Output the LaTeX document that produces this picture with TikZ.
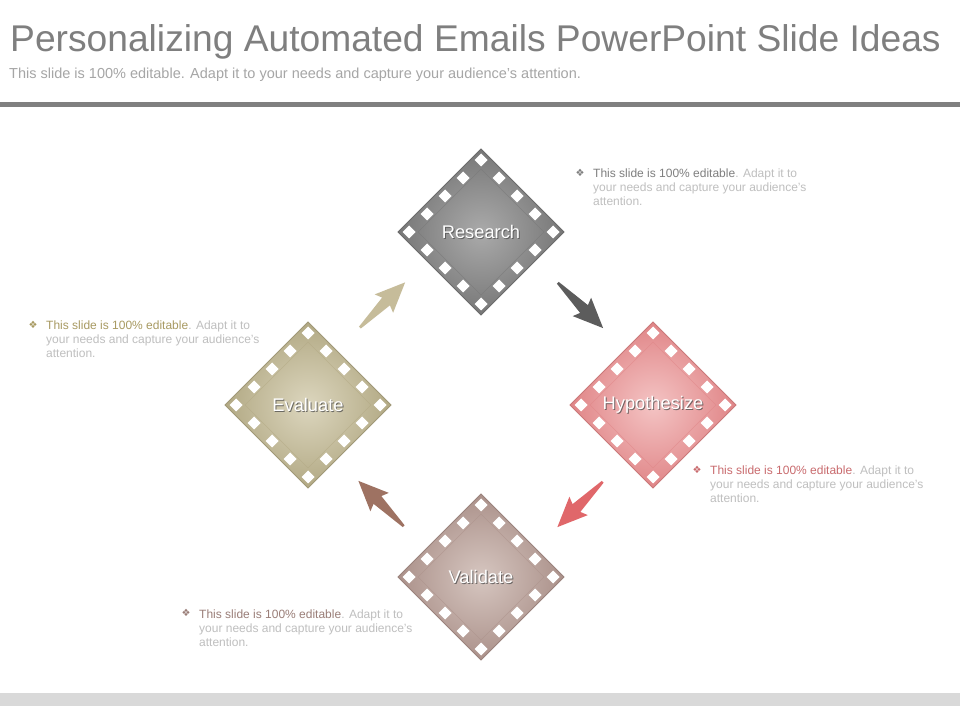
\documentclass[tikz,border=0pt]{standalone}
\usepackage{fontspec}
\setmainfont{Liberation Sans}
\newfontfamily\djv{DejaVu Sans}
\usetikzlibrary{calc}
\definecolor{titlegray}{HTML}{7F7F7F}
\definecolor{subgray}{HTML}{A6A6A6}
\definecolor{rulegray}{HTML}{808080}
\definecolor{barlight}{HTML}{D9D9D9}
\definecolor{bodygray}{HTML}{BFBFBF}
\definecolor{reBase}{HTML}{777777}\definecolor{reLight}{HTML}{AAAAAA}
\definecolor{reText}{HTML}{7F7F7F}\definecolor{reArrow}{HTML}{5C5C5C}
\definecolor{hyBase}{HTML}{E08587}\definecolor{hyLight}{HTML}{F4C4C4}
\definecolor{hyText}{HTML}{C96B6E}\definecolor{hyArrow}{HTML}{E0676A}
\definecolor{evBase}{HTML}{B2A984}\definecolor{evLight}{HTML}{DCD6BE}
\definecolor{evText}{HTML}{A89A62}\definecolor{evArrow}{HTML}{C6BC9A}
\definecolor{vaBase}{HTML}{AB918A}\definecolor{vaLight}{HTML}{D6C6C0}
\definecolor{vaText}{HTML}{9A7E78}\definecolor{vaArrow}{HTML}{9E7262}
\newcommand\filmdia[6]{% name, x, y, base, light, label
  \begin{scope}[shift={(#2,#3)}]
    \shade[inner color=#5, outer color=#4, draw=#4!90!black, line width=0.8pt]
      (0,83) -- (83,0) -- (0,-83) -- (-83,0) -- cycle;
    \draw[#4, line width=0.5pt, opacity=0.6] (0,63) -- (63,0) -- (0,-63) -- (-63,0) -- cycle;
    \foreach \k in {0,1,2,3}{
      \foreach \sx/\sy/\dx/\dy in {0/72/18/-18, 72/0/-18/-18, 0/-72/-18/18, -72/0/18/18}{
        \fill[white] ($(\sx,\sy)+\k*(\dx,\dy)$) +(0,6.5) -- +(6.5,0) -- +(0,-6.5) -- +(-6.5,0) -- cycle;
      }
    }
  \end{scope}
  \node[dialabel, text=black!70, opacity=0.75] at ($(#2,#3)+(1,-1)$) {#6};
  \node[dialabel] (#1) at (#2,#3) {#6};
}
\tikzset{
  dialabel/.style={font=\fontsize{18.3}{20}\selectfont, text=white, inner sep=0},
  bodytext/.style={anchor=base west, align=left, inner sep=0, text=bodygray,
    font=\fontsize{12}{14}\selectfont},
  bulletmark/.style={font=\djv\fontsize{10}{10}\selectfont, inner sep=0},
  fatarrow/.pic={\fill[pic actions] (-32,-1.3) -- (5,-5.5) -- (2,-13) -- (32,0) -- (2,13) -- (5,5.5) -- (-32,1.3) -- cycle;}
}
\begin{document}
\begin{tikzpicture}[x=1pt,y=1pt]
\useasboundingbox (0,0) rectangle (960,720);
\fill[white] (0,0) rectangle (960,720);
% header
\node[anchor=west, inner sep=0, text=titlegray, font=\fontsize{37.2}{40}\selectfont] (title) at (10,678) {Personalizing Automated Emails PowerPoint Slide Ideas};
\node[anchor=west, inner sep=0, text=subgray, font=\fontsize{14.5}{16}\selectfont] (subtitle) at (9,645) {This slide is 100\% editable. Adapt it to your needs and capture your audience's attention.};
\fill[rulegray] (0,613) rectangle (960,618);
\fill[barlight] (0,14) rectangle (960,27);
% diamonds
\filmdia{re}{481}{488}{reBase}{reLight}{Research}
\filmdia{hy}{653}{315}{hyBase}{hyLight}{Hypothesize}
\filmdia{ev}{308}{315}{evBase}{evLight}{Evaluate}
\filmdia{va}{481}{143}{vaBase}{vaLight}{Validate}
% arrows
\pic[fill=evArrow, rotate=45] at ($(ev)!0.5!(re)+(-12,13.5)$) {fatarrow};
\pic[fill=reArrow, rotate=-45] at ($(re)!0.5!(hy)+(13.5,13)$) {fatarrow};
\pic[fill=hyArrow, rotate=-135] at ($(hy)!0.5!(va)+(13,-13.5)$) {fatarrow};
\pic[fill=vaArrow, rotate=135] at ($(va)!0.5!(ev)+(-13.5,-12.5)$) {fatarrow};
% text blocks
\node[bulletmark, text=reText] (b1) at (580,547) {❖};
\node[bodytext] (t1) at (593,514) {\textcolor{reText}{This slide is 100\% editable}. Adapt it to\\your needs and capture your audience's\\attention.};
\node[bulletmark, text=evText] (b2) at (33,395) {❖};
\node[bodytext] (t2) at (46,362) {\textcolor{evText}{This slide is 100\% editable}. Adapt it to\\your needs and capture your audience's\\attention.};
\node[bulletmark, text=hyText] (b3) at (697,250) {❖};
\node[bodytext] (t3) at (710,217) {\textcolor{hyText}{This slide is 100\% editable}. Adapt it to\\your needs and capture your audience's\\attention.};
\node[bulletmark, text=vaText] (b4) at (186,107) {❖};
\node[bodytext] (t4) at (199,74) {\textcolor{vaText}{This slide is 100\% editable}. Adapt it to\\your needs and capture your audience's\\attention.};
\end{tikzpicture}
\end{document}
